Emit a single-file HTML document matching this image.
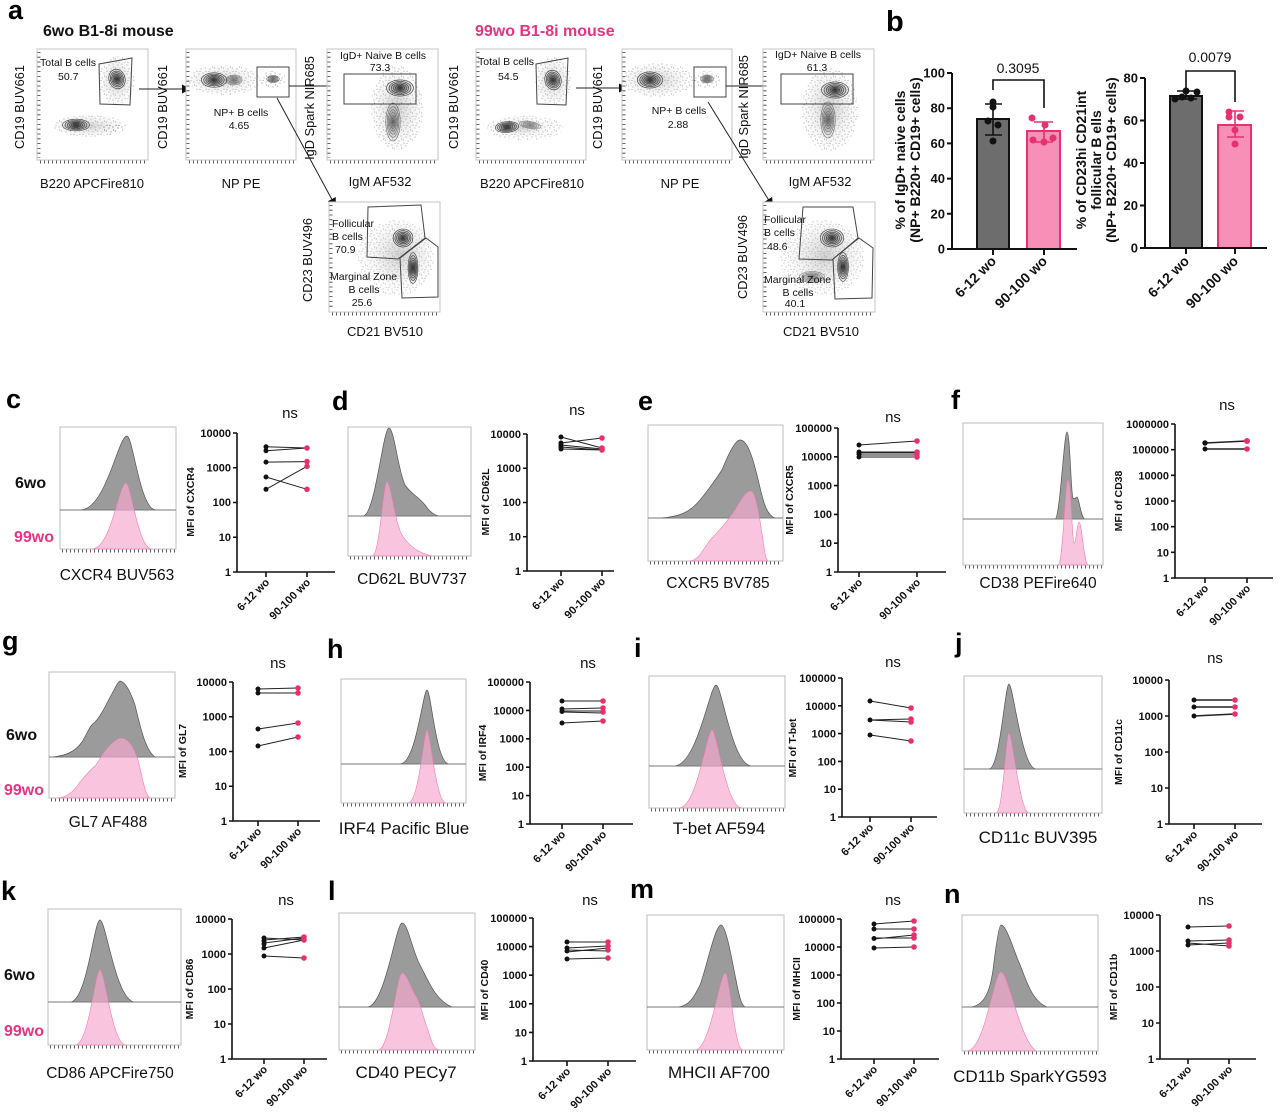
<!DOCTYPE html>
<html><head><meta charset="utf-8"><style>
html,body{margin:0;padding:0;background:#fff;}
svg{display:block;font-family:"Liberation Sans",Arial,sans-serif;}
.pl{font-weight:bold;font-size:27px;fill:#000}
.fb{fill:#fff;stroke:#c4c4c4;stroke-width:1}
.gt{fill:none;stroke:#444;stroke-width:1}
.ct{fill:none;stroke:#3a3a3a;stroke-width:.6;vector-effect:non-scaling-stroke}
.ft{font-size:10.5px;fill:#111}
.fxl{font-size:13px;fill:#111;text-anchor:middle}
.fyl{font-size:12.8px;fill:#111;text-anchor:middle}
.tk{stroke:#333;stroke-width:3;stroke-dasharray:.8 3.2;fill:none}
.tkv{stroke:#333;stroke-width:3;stroke-dasharray:.8 4;fill:none}
.arr{stroke:#222;stroke-width:1;fill:none}
.hb{fill:#fff;stroke:#bdbdbd;stroke-width:1}
.dv{stroke:#777;stroke-width:1}
.hg{fill:#9b9b9b;stroke:#555;stroke-width:.7}
.hp{fill:#f6a9cf;fill-opacity:.68;stroke:#f07ab0;stroke-width:.6}
.hx{font-size:15.5px;fill:#111;text-anchor:middle}
.ax{stroke:#111;stroke-width:1.6;fill:none}
.tl{font-size:11px;font-weight:bold;text-anchor:end;fill:#111}
.yl{font-size:10.5px;font-weight:bold;text-anchor:middle;fill:#111}
.xl{font-size:11px;font-weight:bold;text-anchor:end;fill:#111}
.ns{font-size:15px;text-anchor:middle;fill:#111}
.ln{stroke:#222;stroke-width:1;fill:none}
.bk{fill:#111}
.pk{fill:#e8306e}
.age{font-size:16px;font-weight:bold}
.btl{font-size:13px;font-weight:bold;text-anchor:end;fill:#111}
.byl{font-size:14px;font-weight:bold;text-anchor:middle;fill:#111}
.bxl{font-size:14px;font-weight:bold;text-anchor:end;fill:#111}
.pv{font-size:14px;text-anchor:middle;fill:#111}
</style></head><body>
<svg width="1280" height="1115" viewBox="0 0 1280 1115" xmlns="http://www.w3.org/2000/svg">
<defs>
<radialGradient id="rg"><stop offset="0" stop-color="#1e1e1e" stop-opacity=".95"/><stop offset=".35" stop-color="#555" stop-opacity=".6"/><stop offset=".7" stop-color="#888" stop-opacity=".3"/><stop offset="1" stop-color="#aaa" stop-opacity="0"/></radialGradient>
<radialGradient id="halo"><stop offset="0" stop-color="#777" stop-opacity=".35"/><stop offset="1" stop-color="#aaa" stop-opacity="0"/></radialGradient>
<pattern id="spk" width="9" height="9" patternUnits="userSpaceOnUse">
<circle cx="1" cy="2" r=".5" fill="#555"/><circle cx="5" cy="1" r=".5" fill="#555"/><circle cx="7.3" cy="5" r=".5" fill="#555"/><circle cx="3" cy="6" r=".5" fill="#555"/><circle cx="8" cy="8.2" r=".5" fill="#555"/><circle cx="2" cy="8.5" r=".5" fill="#555"/><circle cx="5.5" cy="4" r=".5" fill="#555"/></pattern>
<g id="blob">
<ellipse rx="10" ry="10" fill="url(#rg)"/>
<ellipse rx="9" ry="9" class="ct"/><ellipse rx="7.3" ry="7.3" class="ct"/><ellipse rx="5.8" ry="5.8" class="ct"/><ellipse rx="4.4" ry="4.4" class="ct"/><ellipse rx="3.1" ry="3.1" class="ct"/><ellipse rx="2" ry="2" class="ct"/><ellipse rx="1" ry="1" class="ct"/>
</g>
<marker id="ah" viewBox="0 0 10 10" refX="10" refY="5" markerWidth="9" markerHeight="9" markerUnits="userSpaceOnUse" orient="auto"><path d="M0,0 L10,5 L0,10 Z" fill="#111"/></marker>
</defs>
<rect width="1280" height="1115" fill="#fff"/>

<!-- ============ PANEL A ============ -->
<text x="8" y="19" class="pl">a</text>
<text x="43" y="36" class="age" fill="#111">6wo B1-8i mouse</text>
<text x="475" y="36" class="age" fill="#e8337f">99wo B1-8i mouse</text>

<!-- 6wo plot1 -->
<rect x="37" y="49" width="111" height="111" class="fb"/>
<path d="M39,52V158" class="tkv"/><path d="M40,162H147" class="tk"/>
<ellipse cx="117" cy="80" rx="18" ry="24" fill="url(#spk)" opacity=".7"/>
<ellipse cx="117" cy="80" rx="18" ry="24" fill="url(#halo)"/>
<use href="#blob" transform="translate(117,79) rotate(-15) scale(.9,1.1)"/>
<ellipse cx="90" cy="126" rx="36" ry="11" fill="url(#spk)" opacity=".7"/>
<ellipse cx="88" cy="126" rx="36" ry="11" fill="url(#halo)"/>
<use href="#blob" transform="translate(76,125) scale(1.5,.65)"/>
<ellipse cx="112" cy="128" rx="10" ry="4" fill="url(#spk)"/>
<polygon points="99,64 132,58 130,105 100,104" class="gt"/>
<text x="40" y="66" class="ft">Total B cells</text>
<text x="58" y="80" class="ft">50.7</text>
<text transform="translate(24,107) rotate(-90)" class="fyl">CD19 BUV661</text>
<text x="92" y="188" class="fxl">B220 APCFire810</text>
<line x1="139" y1="89" x2="191" y2="89" class="arr" marker-end="url(#ah)"/>

<!-- 6wo plot2 -->
<rect x="186" y="49" width="110" height="111" class="fb"/>
<path d="M188,52V158" class="tkv"/><path d="M189,162H294" class="tk"/>
<ellipse cx="224" cy="80" rx="36" ry="15" fill="url(#spk)" opacity=".7"/>
<ellipse cx="222" cy="80" rx="36" ry="15" fill="url(#halo)"/>
<use href="#blob" transform="translate(214,80) scale(1.4,.8)"/>
<use href="#blob" transform="translate(234,80) scale(.9,.55)" opacity=".6"/>
<ellipse cx="273" cy="80" rx="13" ry="9" fill="url(#spk)" opacity=".8"/>
<use href="#blob" transform="translate(273,79) scale(.7,.4)" opacity=".7"/>
<rect x="257" y="67" width="32" height="30" class="gt"/>
<text x="241" y="116" class="ft" text-anchor="middle">NP+ B cells</text>
<text x="239" y="129" class="ft" text-anchor="middle">4.65</text>
<text transform="translate(167,107) rotate(-90)" class="fyl">CD19 BUV661</text>
<text x="241" y="188" class="fxl">NP PE</text>
<line x1="289" y1="86" x2="337" y2="86" class="arr" marker-end="url(#ah)"/>
<line x1="277" y1="98" x2="336" y2="207" class="arr" marker-end="url(#ah)"/>

<!-- 6wo plot3 -->
<rect x="327" y="49" width="111" height="111" class="fb"/>
<path d="M329,52V158" class="tkv"/><path d="M330,162H436" class="tk"/>
<ellipse cx="397" cy="108" rx="26" ry="42" fill="url(#spk)" opacity=".7"/>
<ellipse cx="397" cy="108" rx="26" ry="42" fill="url(#halo)"/>
<use href="#blob" transform="translate(393,122) scale(.8,2.1)" opacity=".7"/>
<use href="#blob" transform="translate(400,88) scale(1.5,.9)"/>
<rect x="344" y="74" width="72" height="30" class="gt"/>
<text x="383" y="59" class="ft" text-anchor="middle">IgD+ Naive B cells</text>
<text x="380" y="71" class="ft" text-anchor="middle">73.3</text>
<text transform="translate(314,108) rotate(-90)" class="fyl">IgD Spark NIR685</text>
<text x="380" y="186" class="fxl">IgM  AF532</text>

<!-- 6wo plot4 -->
<rect x="329" y="202" width="111" height="110" class="fb"/>
<path d="M331,205V310" class="tkv"/><path d="M332,314H438" class="tk"/>
<ellipse cx="396" cy="258" rx="38" ry="38" fill="url(#spk)" opacity=".6"/>
<ellipse cx="400" cy="255" rx="36" ry="36" fill="url(#halo)"/>
<use href="#blob" transform="translate(403,238) scale(1.1,1)"/>
<use href="#blob" transform="translate(413,268) scale(.55,1.7)"/>
<polygon points="368,207 421,205 425,238 398,259 367,257" class="gt"/>
<polygon points="400,258 426,238 438,247 438,297 402,298" class="gt"/>
<text x="332" y="227" class="ft">Follicular</text>
<text x="332" y="240" class="ft">B cells</text>
<text x="335" y="253" class="ft">70.9</text>
<text x="330" y="280" class="ft">Marginal Zone</text>
<text x="364" y="293" class="ft" text-anchor="middle">B cells</text>
<text x="362" y="306" class="ft" text-anchor="middle">25.6</text>
<text transform="translate(312,260) rotate(-90)" class="fyl">CD23 BUV496</text>
<text x="385" y="336" class="fxl">CD21 BV510</text>

<!-- 99wo plot1 -->
<rect x="476" y="49" width="110" height="111" class="fb"/>
<path d="M478,52V158" class="tkv"/><path d="M479,162H584" class="tk"/>
<ellipse cx="553" cy="81" rx="18" ry="24" fill="url(#spk)" opacity=".7"/>
<ellipse cx="553" cy="81" rx="18" ry="24" fill="url(#halo)"/>
<use href="#blob" transform="translate(553,80) rotate(-15) scale(.9,1.1)"/>
<ellipse cx="525" cy="128" rx="38" ry="12" fill="url(#spk)" opacity=".7"/>
<ellipse cx="520" cy="127" rx="34" ry="11" fill="url(#halo)"/>
<use href="#blob" transform="translate(507,127) rotate(-5) scale(1.3,.6)"/>
<use href="#blob" transform="translate(530,125) rotate(10) scale(1.2,.4)" opacity=".5"/>
<polygon points="536,64 568,58 566,105 537,104" class="gt"/>
<text x="478" y="65" class="ft">Total B cells</text>
<text x="498" y="80" class="ft">54.5</text>
<text transform="translate(458,107) rotate(-90)" class="fyl">CD19 BUV661</text>
<text x="532" y="188" class="fxl">B220 APCFire810</text>
<line x1="576" y1="88" x2="628" y2="88" class="arr" marker-end="url(#ah)"/>

<!-- 99wo plot2 -->
<rect x="622" y="49" width="110" height="111" class="fb"/>
<path d="M624,52V158" class="tkv"/><path d="M625,162H730" class="tk"/>
<ellipse cx="658" cy="80" rx="36" ry="17" fill="url(#spk)" opacity=".7"/>
<ellipse cx="655" cy="80" rx="34" ry="17" fill="url(#halo)"/>
<use href="#blob" transform="translate(650,80) scale(1.4,.9)"/>
<ellipse cx="707" cy="80" rx="13" ry="9" fill="url(#spk)" opacity=".8"/>
<use href="#blob" transform="translate(707,79) scale(.7,.45)" opacity=".7"/>
<rect x="694" y="67" width="32" height="30" class="gt"/>
<text x="679" y="114" class="ft" text-anchor="middle">NP+ B cells</text>
<text x="678" y="128" class="ft" text-anchor="middle">2.88</text>
<text transform="translate(602,107) rotate(-90)" class="fyl">CD19 BUV661</text>
<text x="680" y="188" class="fxl">NP PE</text>
<line x1="726" y1="86" x2="774" y2="86" class="arr" marker-end="url(#ah)"/>
<line x1="708" y1="102" x2="773" y2="207" class="arr" marker-end="url(#ah)"/>

<!-- 99wo plot3 -->
<rect x="763" y="49" width="111" height="111" class="fb"/>
<path d="M765,52V158" class="tkv"/><path d="M766,162H872" class="tk"/>
<ellipse cx="830" cy="110" rx="28" ry="42" fill="url(#spk)" opacity=".7"/>
<ellipse cx="830" cy="108" rx="28" ry="42" fill="url(#halo)"/>
<use href="#blob" transform="translate(828,120) scale(.8,2)" opacity=".7"/>
<use href="#blob" transform="translate(835,90) scale(1.5,.9)"/>
<rect x="781" y="74" width="72" height="30" class="gt"/>
<text x="818" y="58" class="ft" text-anchor="middle">IgD+ Naive B cells</text>
<text x="817" y="71" class="ft" text-anchor="middle">61.3</text>
<text transform="translate(748,107) rotate(-90)" class="fyl">IgD Spark NIR685</text>
<text x="820" y="186" class="fxl">IgM  AF532</text>

<!-- 99wo plot4 -->
<rect x="763" y="202" width="112" height="110" class="fb"/>
<path d="M765,205V310" class="tkv"/><path d="M766,314H873" class="tk"/>
<ellipse cx="822" cy="258" rx="42" ry="38" fill="url(#spk)" opacity=".6"/>
<ellipse cx="825" cy="256" rx="40" ry="36" fill="url(#halo)"/>
<use href="#blob" transform="translate(812,277) scale(1.4,.6)" opacity=".6"/>
<use href="#blob" transform="translate(832,238) scale(1.3,1)"/>
<use href="#blob" transform="translate(843,267) scale(.6,1.6)"/>
<polygon points="803,207 853,207 858,238 832,260 799,259" class="gt"/>
<polygon points="833,259 859,238 873,248 872,298 835,299" class="gt"/>
<text x="764" y="223" class="ft">Follicular</text>
<text x="764" y="236" class="ft">B cells</text>
<text x="767" y="250" class="ft">48.6</text>
<text x="764" y="283" class="ft">Marginal Zone</text>
<text x="798" y="296" class="ft" text-anchor="middle">B cells</text>
<text x="795" y="307" class="ft" text-anchor="middle">40.1</text>
<text transform="translate(747,257) rotate(-90)" class="fyl">CD23 BUV496</text>
<text x="821" y="336" class="fxl">CD21 BV510</text>

<!-- ============ PANEL B ============ -->
<text x="886" y="31" class="pl" style="font-size:29px">b</text>
<!-- chart 1 -->
<rect x="977" y="119" width="32" height="130" fill="#6d6d6d" stroke="#111" stroke-width="2"/>
<rect x="1027" y="131" width="33" height="118" fill="#f78fb6" stroke="#e8306e" stroke-width="2"/>
<path d="M952,73V249H1077" stroke="#111" stroke-width="2" fill="none"/>
<path d="M947,249H952M947,213.8H952M947,178.6H952M947,143.4H952M947,108.2H952M947,73H952M993,249V255M1044,249V255" stroke="#111" stroke-width="2"/>
<text x="945" y="253.5" class="btl">0</text>
<text x="945" y="218.3" class="btl">20</text>
<text x="945" y="183.1" class="btl">40</text>
<text x="945" y="147.9" class="btl">60</text>
<text x="945" y="112.7" class="btl">80</text>
<text x="945" y="77.5" class="btl">100</text>
<path d="M993,104V135M985,104H1002M985,135H1002" stroke="#111" stroke-width="1.6"/>
<path d="M1044,122V142M1034,122H1053M1034,142H1053" stroke="#e8306e" stroke-width="1.6"/>
<circle cx="993" cy="102" r="3.5" class="bk"/><circle cx="993" cy="107" r="3.5" class="bk"/><circle cx="988" cy="121" r="3.5" class="bk"/><circle cx="998" cy="125" r="3.5" class="bk"/><circle cx="993" cy="141" r="3.5" class="bk"/>
<circle cx="1032" cy="118" r="3.5" class="pk"/><circle cx="1045" cy="125" r="3.5" class="pk"/><circle cx="1033" cy="140" r="3.5" class="pk"/><circle cx="1053" cy="138" r="3.5" class="pk"/><circle cx="1044" cy="142" r="3.5" class="pk"/>
<path d="M993,90V80H1044V108" stroke="#111" stroke-width="1.6" fill="none"/>
<text x="1018" y="73" class="pv">0.3095</text>
<text transform="translate(905,160) rotate(-90)" class="byl">% of IgD+ naive cells</text>
<text transform="translate(920,160) rotate(-90)" class="byl">(NP+ B220+ CD19+ cells)</text>
<text transform="translate(997,262) rotate(-45)" class="bxl">6-12 wo</text>
<text transform="translate(1048,262) rotate(-45)" class="bxl">90-100 wo</text>
<!-- chart 2 -->
<rect x="1170" y="96" width="32" height="152" fill="#6d6d6d" stroke="#111" stroke-width="2"/>
<rect x="1218" y="125" width="33" height="123" fill="#f78fb6" stroke="#e8306e" stroke-width="2"/>
<path d="M1145,78V248H1267" stroke="#111" stroke-width="2" fill="none"/>
<path d="M1140,248H1145M1140,205.5H1145M1140,163H1145M1140,120.5H1145M1140,78H1145M1186,248V254M1235,248V254" stroke="#111" stroke-width="2"/>
<text x="1138" y="252.5" class="btl">0</text>
<text x="1138" y="210" class="btl">20</text>
<text x="1138" y="167.5" class="btl">40</text>
<text x="1138" y="125" class="btl">60</text>
<text x="1138" y="82.5" class="btl">80</text>
<path d="M1186,91V99M1177,91H1197M1177,99H1197" stroke="#111" stroke-width="1.6"/>
<path d="M1235,111V137M1227,111H1244M1227,137H1244" stroke="#e8306e" stroke-width="1.6"/>
<circle cx="1175" cy="99" r="3.5" class="bk"/><circle cx="1186" cy="91" r="3.5" class="bk"/><circle cx="1197" cy="92" r="3.5" class="bk"/><circle cx="1191" cy="98" r="3.5" class="bk"/><circle cx="1182" cy="97" r="3.5" class="bk"/>
<circle cx="1229" cy="112" r="3.5" class="pk"/><circle cx="1229" cy="117" r="3.5" class="pk"/><circle cx="1240" cy="117" r="3.5" class="pk"/><circle cx="1235" cy="130" r="3.5" class="pk"/><circle cx="1235" cy="144" r="3.5" class="pk"/>
<path d="M1186,89V71H1235V102" stroke="#111" stroke-width="1.6" fill="none"/>
<text x="1210" y="62" class="pv">0.0079</text>
<text transform="translate(1086,160) rotate(-90)" class="byl">% of CD23hi CD21int</text>
<text transform="translate(1101,160) rotate(-90)" class="byl">follicular B ells</text>
<text transform="translate(1116,160) rotate(-90)" class="byl">(NP+ B220+ CD19+ cells)</text>
<text transform="translate(1190,262) rotate(-45)" class="bxl">6-12 wo</text>
<text transform="translate(1239,262) rotate(-45)" class="bxl">90-100 wo</text>

<!-- ============ ROW 1 ============ -->
<text x="6" y="408" class="pl">c</text>
<text x="332" y="410" class="pl">d</text>
<text x="638" y="410" class="pl">e</text>
<text x="951" y="409" class="pl">f</text>

<!-- c hist -->
<rect x="60" y="427" width="116" height="122" class="hb"/>
<path d="M80,510 C106,510 118,436 127,436 C133,436 140,510 156,510 Z" class="hg"/>
<line x1="60" y1="510" x2="176" y2="510" class="dv"/>
<path d="M92,549 C111,549 119,483 126,483 C131,483 138,549 152,549 Z" class="hp"/>
<path d="M62,551H175" class="tk"/>
<text x="15" y="488" class="age" fill="#111">6wo</text>
<text x="14" y="542" class="age" fill="#e8337f">99wo</text>
<text x="117" y="580" class="hx">CXCR4 BUV563</text>
<!-- c dot -->
<path d="M237,433V572H335" class="ax"/>
<path d="M233,572H237M233,537.25H237M233,502.5H237M233,467.75H237M233,433H237M266,572V577M307,572V577" class="ax"/>
<text x="231" y="576" class="tl">1</text><text x="231" y="541" class="tl">10</text><text x="231" y="506" class="tl">100</text><text x="231" y="471.5" class="tl">1000</text><text x="231" y="437" class="tl">10000</text>
<text transform="translate(194,502) rotate(-90)" class="yl">MFI of CXCR4</text>
<text x="290" y="418" class="ns">ns</text>
<text transform="translate(270,583) rotate(-45)" class="xl">6-12 wo</text>
<text transform="translate(311,583) rotate(-45)" class="xl">90-100 wo</text>
<path d="M266,446.8L307,448M266,450.7L307,448M266,462.1L307,461.6M266,477L307,489.3M266,489.3L307,466.3" class="ln"/>
<g class="bk"><circle cx="266" cy="446.8" r="2.5"/><circle cx="266" cy="450.7" r="2.5"/><circle cx="266" cy="462.1" r="2.5"/><circle cx="266" cy="477" r="2.5"/><circle cx="266" cy="489.3" r="2.5"/></g>
<g class="pk"><circle cx="307" cy="448" r="2.8"/><circle cx="307" cy="461.6" r="2.8"/><circle cx="307" cy="466.3" r="2.8"/><circle cx="307" cy="489.3" r="2.8"/></g>

<!-- d hist -->
<rect x="348" y="427" width="123" height="129" class="hb"/>
<path d="M363,516 C375,516 383,428 389,428 C394,428 398,470 405,485 C412,495 418,496 425,505 C430,512 435,516 440,516 Z" class="hg"/>
<line x1="348" y1="516" x2="471" y2="516" class="dv"/>
<path d="M372,556 C380,556 383,482 387,482 C391,482 394,520 402,535 C410,548 420,553 432,556 Z" class="hp"/>
<path d="M350,558H470" class="tk"/>
<text x="412" y="584" class="hx">CD62L BUV737</text>
<!-- d dot -->
<path d="M527,434V571H614" class="ax"/>
<path d="M523,571H527M523,536.75H527M523,502.5H527M523,468.25H527M523,434H527M561,571V576M602,571V576" class="ax"/>
<text x="521" y="575" class="tl">1</text><text x="521" y="540.5" class="tl">10</text><text x="521" y="506" class="tl">100</text><text x="521" y="472" class="tl">1000</text><text x="521" y="438" class="tl">10000</text>
<text transform="translate(489,502) rotate(-90)" class="yl">MFI of CD62L</text>
<text x="577" y="415" class="ns">ns</text>
<text transform="translate(565,582) rotate(-45)" class="xl">6-12 wo</text>
<text transform="translate(606,582) rotate(-45)" class="xl">90-100 wo</text>
<path d="M561,437L602,448M561,443L602,438M561,445L602,449M561,447L602,450M561,449L602,450" class="ln"/>
<g class="bk"><circle cx="561" cy="437" r="2.5"/><circle cx="561" cy="443" r="2.5"/><circle cx="561" cy="445" r="2.5"/><circle cx="561" cy="447" r="2.5"/><circle cx="561" cy="449" r="2.5"/></g>
<g class="pk"><circle cx="602" cy="438" r="2.8"/><circle cx="602" cy="448" r="2.8"/><circle cx="602" cy="450" r="2.8"/></g>

<!-- e hist -->
<rect x="648" y="425" width="135" height="136" class="hb"/>
<path d="M660,518 C680,517 690,512 700,500 C710,488 715,480 722,470 C728,455 735,440 740,440 C747,440 752,455 757,475 C762,495 765,515 775,518 Z" class="hg"/>
<line x1="648" y1="518" x2="783" y2="518" class="dv"/>
<path d="M690,561 C700,560 705,545 712,538 C720,530 728,520 735,510 C742,498 746,491 751,491 C756,492 760,520 763,540 C765,555 766,560 768,561 Z" class="hp"/>
<path d="M650,563H782" class="tk"/>
<text x="718" y="588" class="hx">CXCR5 BV785</text>
<!-- e dot -->
<path d="M838,428V572H946" class="ax"/>
<path d="M834,572H838M834,543.2H838M834,514.4H838M834,485.6H838M834,456.8H838M834,428H838M859,572V577M917,572V577" class="ax"/>
<text x="832" y="576" class="tl">1</text><text x="832" y="547" class="tl">10</text><text x="832" y="518" class="tl">100</text><text x="832" y="489.5" class="tl">1000</text><text x="832" y="460.5" class="tl">10000</text><text x="832" y="432" class="tl">100000</text>
<text transform="translate(793,500) rotate(-90)" class="yl">MFI of CXCR5</text>
<text x="893" y="422" class="ns">ns</text>
<text transform="translate(863,583) rotate(-45)" class="xl">6-12 wo</text>
<text transform="translate(921,583) rotate(-45)" class="xl">90-100 wo</text>
<path d="M859,445L917,441M859,452L917,452M859,453L917,453M859,455L917,455M859,457L917,457" class="ln"/>
<g class="bk"><circle cx="859" cy="445" r="2.5"/><circle cx="859" cy="452" r="2.5"/><circle cx="859" cy="454" r="2.5"/><circle cx="859" cy="457" r="2.5"/></g>
<g class="pk"><circle cx="917" cy="441" r="2.8"/><circle cx="917" cy="452" r="2.8"/><circle cx="917" cy="454" r="2.8"/><circle cx="917" cy="457" r="2.8"/></g>

<!-- f hist -->
<rect x="963" y="423" width="140" height="142" class="hb"/>
<path d="M1055,519 C1060,519 1064,432 1067,432 C1070,432 1071,495 1073,498 C1075,500 1076,497 1077,497 C1079,497 1081,519 1085,519 Z" class="hg"/>
<line x1="963" y1="519" x2="1103" y2="519" class="dv"/>
<path d="M1058,565 C1063,565 1065,480 1068,480 C1071,480 1072,540 1074,543 C1076,545 1077,522 1079,522 C1082,522 1084,565 1088,565 Z" class="hp"/>
<path d="M965,567H1102" class="tk"/>
<text x="1038" y="588" class="hx">CD38 PEFire640</text>
<!-- f dot -->
<path d="M1175,424V578H1273" class="ax"/>
<path d="M1171,578H1175M1171,552.3H1175M1171,526.7H1175M1171,501H1175M1171,475.3H1175M1171,449.7H1175M1171,424H1175M1205,578V583M1247,578V583" class="ax"/>
<text x="1169" y="582" class="tl">1</text><text x="1169" y="556.3" class="tl">10</text><text x="1169" y="530.7" class="tl">100</text><text x="1169" y="505" class="tl">1000</text><text x="1169" y="479.3" class="tl">10000</text><text x="1169" y="453.7" class="tl">100000</text><text x="1169" y="428" class="tl">1000000</text>
<text transform="translate(1122,501) rotate(-90)" class="yl">MFI of CD38</text>
<text x="1227" y="410" class="ns">ns</text>
<text transform="translate(1209,589) rotate(-45)" class="xl">6-12 wo</text>
<text transform="translate(1251,589) rotate(-45)" class="xl">90-100 wo</text>
<path d="M1205,443L1247,441M1205,449L1247,449" class="ln" style="stroke-width:1.6"/>
<g class="bk"><circle cx="1205" cy="443" r="2.7"/><circle cx="1205" cy="449" r="2.5"/></g>
<g class="pk"><circle cx="1247" cy="441" r="3"/><circle cx="1247" cy="449" r="2.8"/></g>

<!-- ============ ROW 2 ============ -->
<text x="2" y="650" class="pl">g</text>
<text x="327" y="658" class="pl">h</text>
<text x="634" y="657" class="pl">i</text>
<text x="955" y="652" class="pl">j</text>

<!-- g hist -->
<rect x="49" y="672" width="126" height="126" class="hb"/>
<path d="M52,757 C65,756 75,752 82,742 C88,732 90,725 95,722 C102,715 108,700 114,690 C117,684 119,681 120,681 C125,682 130,690 135,705 C140,725 145,750 155,757 Z" class="hg"/>
<line x1="49" y1="757" x2="175" y2="757" class="dv"/>
<path d="M58,798 C68,797 75,790 80,782 C86,775 90,770 96,765 C102,755 110,742 120,738 C126,738 132,742 138,760 C143,780 145,795 150,798 Z" class="hp"/>
<path d="M51,800H174" class="tk"/>
<text x="6" y="740" class="age" fill="#111">6wo</text>
<text x="4" y="795" class="age" fill="#e8337f">99wo</text>
<text x="108" y="827" class="hx">GL7 AF488</text>
<!-- g dot -->
<path d="M233,682V821H320" class="ax"/>
<path d="M229,821H233M229,786.25H233M229,751.5H233M229,716.75H233M229,682H233M258,821V826M298,821V826" class="ax"/>
<text x="227" y="825" class="tl">1</text><text x="227" y="790" class="tl">10</text><text x="227" y="755.5" class="tl">100</text><text x="227" y="720.5" class="tl">1000</text><text x="227" y="686" class="tl">10000</text>
<text transform="translate(186,751) rotate(-90)" class="yl">MFI of GL7</text>
<text x="278" y="668" class="ns">ns</text>
<text transform="translate(262,832) rotate(-45)" class="xl">6-12 wo</text>
<text transform="translate(302,832) rotate(-45)" class="xl">90-100 wo</text>
<path d="M258,689L298,688M258,693L298,693M258,729L298,723M258,746L298,737" class="ln"/>
<g class="bk"><circle cx="258" cy="689" r="2.5"/><circle cx="258" cy="693" r="2.5"/><circle cx="258" cy="729" r="2.5"/><circle cx="258" cy="746" r="2.5"/></g>
<g class="pk"><circle cx="298" cy="688" r="2.8"/><circle cx="298" cy="693" r="2.8"/><circle cx="298" cy="723" r="2.8"/><circle cx="298" cy="737" r="2.8"/></g>

<!-- h hist -->
<rect x="341" y="679" width="125" height="124" class="hb"/>
<path d="M400,764 C416,764 423,690 427,690 C431,690 436,764 449,764 Z" class="hg"/>
<line x1="341" y1="764" x2="466" y2="764" class="dv"/>
<path d="M408,803 C419,803 424,730 427,730 C430,730 436,803 446,803 Z" class="hp"/>
<path d="M343,805H465" class="tk"/>
<text x="404" y="834" class="hx" style="font-size:17px">IRF4 Pacific Blue</text>
<!-- h dot -->
<path d="M530,682V824H633" class="ax"/>
<path d="M526,824H530M526,795.6H530M526,767.2H530M526,738.8H530M526,710.4H530M526,682H530M562,824V829M603,824V829" class="ax"/>
<text x="524" y="828" class="tl">1</text><text x="524" y="799.5" class="tl">10</text><text x="524" y="771" class="tl">100</text><text x="524" y="742.5" class="tl">1000</text><text x="524" y="714.5" class="tl">10000</text><text x="524" y="686" class="tl">100000</text>
<text transform="translate(486,753) rotate(-90)" class="yl">MFI of IRF4</text>
<text x="588" y="668" class="ns">ns</text>
<text transform="translate(566,835) rotate(-45)" class="xl">6-12 wo</text>
<text transform="translate(607,835) rotate(-45)" class="xl">90-100 wo</text>
<path d="M562,701L603,701M562,709L603,708M562,711L603,711M562,712L603,713M562,723L603,721" class="ln"/>
<g class="bk"><circle cx="562" cy="701" r="2.5"/><circle cx="562" cy="709" r="2.5"/><circle cx="562" cy="711.5" r="2.5"/><circle cx="562" cy="723" r="2.5"/></g>
<g class="pk"><circle cx="603" cy="701" r="2.8"/><circle cx="603" cy="708" r="2.8"/><circle cx="603" cy="712" r="2.8"/><circle cx="603" cy="721" r="2.8"/></g>

<!-- i hist -->
<rect x="649" y="676" width="136" height="132" class="hb"/>
<path d="M674,766 C697,766 710,685 716,685 C722,685 732,766 752,766 Z" class="hg"/>
<line x1="649" y1="766" x2="785" y2="766" class="dv"/>
<path d="M679,808 C697,808 707,730 712,730 C717,730 726,808 742,808 Z" class="hp"/>
<path d="M651,810H784" class="tk"/>
<text x="719" y="834" class="hx" style="font-size:17px">T-bet AF594</text>
<!-- i dot -->
<path d="M842,678V817H937" class="ax"/>
<path d="M838,817H842M838,789.2H842M838,761.4H842M838,733.6H842M838,705.8H842M838,678H842M870,817V822M911,817V822" class="ax"/>
<text x="836" y="821" class="tl">1</text><text x="836" y="793" class="tl">10</text><text x="836" y="765.5" class="tl">100</text><text x="836" y="737.5" class="tl">1000</text><text x="836" y="710" class="tl">10000</text><text x="836" y="682" class="tl">100000</text>
<text transform="translate(796,748) rotate(-90)" class="yl">MFI of T-bet</text>
<text x="893" y="667" class="ns">ns</text>
<text transform="translate(874,828) rotate(-45)" class="xl">6-12 wo</text>
<text transform="translate(915,828) rotate(-45)" class="xl">90-100 wo</text>
<path d="M870,701L911,708M870,720L911,719M870,720L911,722M870,735L911,741" class="ln"/>
<g class="bk"><circle cx="870" cy="701" r="2.5"/><circle cx="870" cy="720" r="2.5"/><circle cx="870" cy="735" r="2.5"/></g>
<g class="pk"><circle cx="911" cy="708" r="2.8"/><circle cx="911" cy="719" r="2.8"/><circle cx="911" cy="722" r="2.8"/><circle cx="911" cy="741" r="2.8"/></g>

<!-- j hist -->
<rect x="964" y="676" width="138" height="137" class="hb"/>
<path d="M989,769 C1000,769 1005,684 1009,684 C1013,684 1022,769 1036,769 Z" class="hg"/>
<line x1="964" y1="769" x2="1102" y2="769" class="dv"/>
<path d="M996,813 C1003,813 1006,733 1009,733 C1012,733 1020,813 1029,813 Z" class="hp"/>
<path d="M966,815H1101" class="tk"/>
<text x="1038" y="843" class="hx" style="font-size:17px">CD11c BUV395</text>
<!-- j dot -->
<path d="M1169,680V824H1262" class="ax"/>
<path d="M1165,824H1169M1165,788H1169M1165,752H1169M1165,716H1169M1165,680H1169M1194,824V829M1235,824V829" class="ax"/>
<text x="1163" y="828" class="tl">1</text><text x="1163" y="792" class="tl">10</text><text x="1163" y="756" class="tl">100</text><text x="1163" y="720" class="tl">1000</text><text x="1163" y="684" class="tl">10000</text>
<text transform="translate(1122,752) rotate(-90)" class="yl">MFI of CD11c</text>
<text x="1215" y="663" class="ns">ns</text>
<text transform="translate(1198,835) rotate(-45)" class="xl">6-12 wo</text>
<text transform="translate(1239,835) rotate(-45)" class="xl">90-100 wo</text>
<path d="M1194,700L1235,700M1194,707L1235,707M1194,716L1235,714" class="ln" style="stroke-width:1.4"/>
<g class="bk"><circle cx="1194" cy="700" r="2.5"/><circle cx="1194" cy="707" r="2.5"/><circle cx="1194" cy="716" r="2.5"/></g>
<g class="pk"><circle cx="1235" cy="700" r="2.8"/><circle cx="1235" cy="707" r="2.8"/><circle cx="1235" cy="714" r="2.8"/></g>

<!-- ============ ROW 3 ============ -->
<text x="1" y="900" class="pl">k</text>
<text x="328" y="900" class="pl">l</text>
<text x="630" y="898" class="pl">m</text>
<text x="944" y="903" class="pl">n</text>

<!-- k hist -->
<rect x="48" y="909" width="133" height="136" class="hb"/>
<path d="M70,1002 C87,1002 94,920 100,920 C106,920 116,1002 135,1002 Z" class="hg"/>
<line x1="48" y1="1002" x2="181" y2="1002" class="dv"/>
<path d="M75,1045 C89,1045 95,970 100,970 C105,970 112,1045 126,1045 Z" class="hp"/>
<path d="M50,1047H180" class="tk"/>
<text x="4" y="980" class="age" fill="#111">6wo</text>
<text x="4" y="1036" class="age" fill="#e8337f">99wo</text>
<text x="110" y="1078" class="hx">CD86 APCFire750</text>
<!-- k dot -->
<path d="M232,919V1059H327" class="ax"/>
<path d="M228,1059H232M228,1024H232M228,989H232M228,954H232M228,919H232M264,1059V1064M304,1059V1064" class="ax"/>
<text x="226" y="1063" class="tl">1</text><text x="226" y="1028" class="tl">10</text><text x="226" y="993" class="tl">100</text><text x="226" y="958" class="tl">1000</text><text x="226" y="923" class="tl">10000</text>
<text transform="translate(193,989) rotate(-90)" class="yl">MFI of CD86</text>
<text x="286" y="905" class="ns">ns</text>
<text transform="translate(268,1070) rotate(-45)" class="xl">6-12 wo</text>
<text transform="translate(308,1070) rotate(-45)" class="xl">90-100 wo</text>
<path d="M264,938L304,940M264,940L304,937M264,943L304,938M264,948L304,940M264,956L304,958" class="ln"/>
<g class="bk"><circle cx="264" cy="938" r="2.5"/><circle cx="264" cy="941" r="2.5"/><circle cx="264" cy="944" r="2.5"/><circle cx="264" cy="948" r="2.5"/><circle cx="264" cy="956" r="2.5"/></g>
<g class="pk"><circle cx="304" cy="937" r="2.8"/><circle cx="304" cy="940" r="2.8"/><circle cx="304" cy="958" r="2.8"/></g>

<!-- l hist -->
<rect x="339" y="913" width="136" height="137" class="hb"/>
<path d="M367,1007 C385,1007 396,923 402,923 C408,923 412,950 420,965 C428,980 435,1000 452,1007 Z" class="hg"/>
<line x1="339" y1="1007" x2="475" y2="1007" class="dv"/>
<path d="M378,1050 C390,1050 397,973 402,973 C406,973 410,985 415,995 C420,1000 422,1015 428,1030 C432,1045 435,1050 440,1050 Z" class="hp"/>
<path d="M341,1052H474" class="tk"/>
<text x="406" y="1078" class="hx" style="font-size:17px">CD40 PECy7</text>
<!-- l dot -->
<path d="M533,918V1061H636" class="ax"/>
<path d="M529,1061H533M529,1032.4H533M529,1003.8H533M529,975.2H533M529,946.6H533M529,918H533M567,1061V1066M608,1061V1066" class="ax"/>
<text x="527" y="1065" class="tl">1</text><text x="527" y="1036.5" class="tl">10</text><text x="527" y="1008" class="tl">100</text><text x="527" y="979" class="tl">1000</text><text x="527" y="950.5" class="tl">10000</text><text x="527" y="922" class="tl">100000</text>
<text transform="translate(488,990) rotate(-90)" class="yl">MFI of CD40</text>
<text x="590" y="905" class="ns">ns</text>
<text transform="translate(571,1072) rotate(-45)" class="xl">6-12 wo</text>
<text transform="translate(612,1072) rotate(-45)" class="xl">90-100 wo</text>
<path d="M567,942L608,942M567,948L608,946M567,950L608,951M567,952L608,948M567,959L608,958" class="ln"/>
<g class="bk"><circle cx="567" cy="942" r="2.5"/><circle cx="567" cy="948" r="2.5"/><circle cx="567" cy="951" r="2.5"/><circle cx="567" cy="959" r="2.5"/></g>
<g class="pk"><circle cx="608" cy="942" r="2.8"/><circle cx="608" cy="946" r="2.8"/><circle cx="608" cy="950" r="2.8"/><circle cx="608" cy="958" r="2.8"/></g>

<!-- m hist -->
<rect x="647" y="915" width="137" height="135" class="hb"/>
<path d="M678,1007 C690,1006 695,995 700,985 C706,970 715,925 721,925 C726,925 732,960 736,980 C740,1000 742,1007 746,1007 Z" class="hg"/>
<line x1="647" y1="1007" x2="784" y2="1007" class="dv"/>
<path d="M695,1050 C710,1050 720,973 725,973 C730,973 734,1050 743,1050 Z" class="hp"/>
<path d="M649,1052H783" class="tk"/>
<text x="719" y="1078" class="hx" style="font-size:17px">MHCII AF700</text>
<!-- m dot -->
<path d="M841,919V1059H939" class="ax"/>
<path d="M837,1059H841M837,1031H841M837,1003H841M837,975H841M837,947H841M837,919H841M874,1059V1064M914,1059V1064" class="ax"/>
<text x="835" y="1063" class="tl">1</text><text x="835" y="1035" class="tl">10</text><text x="835" y="1007" class="tl">100</text><text x="835" y="979" class="tl">1000</text><text x="835" y="951" class="tl">10000</text><text x="835" y="923" class="tl">100000</text>
<text transform="translate(800,989) rotate(-90)" class="yl">MFI of MHCII</text>
<text x="893" y="905" class="ns">ns</text>
<text transform="translate(878,1070) rotate(-45)" class="xl">6-12 wo</text>
<text transform="translate(918,1070) rotate(-45)" class="xl">90-100 wo</text>
<path d="M874,924L914,921M874,929L914,929M874,938L914,938M874,939L914,935M874,948L914,947" class="ln"/>
<g class="bk"><circle cx="874" cy="924" r="2.5"/><circle cx="874" cy="929" r="2.5"/><circle cx="874" cy="938.5" r="2.5"/><circle cx="874" cy="948" r="2.5"/></g>
<g class="pk"><circle cx="914" cy="921" r="2.8"/><circle cx="914" cy="929" r="2.8"/><circle cx="914" cy="935" r="2.8"/><circle cx="914" cy="938" r="2.8"/><circle cx="914" cy="947" r="2.8"/></g>

<!-- n hist -->
<rect x="962" y="915" width="136" height="136" class="hb"/>
<path d="M970,1007 C985,1006 990,990 993,970 C996,945 999,925 1001,925 C1006,925 1012,945 1018,960 C1025,975 1030,1000 1047,1007 Z" class="hg"/>
<line x1="962" y1="1007" x2="1098" y2="1007" class="dv"/>
<path d="M967,1051 C985,1050 994,972 1001,972 C1008,972 1020,1040 1036,1051 Z" class="hp"/>
<path d="M964,1053H1097" class="tk"/>
<text x="1030" y="1082" class="hx" style="font-size:17px">CD11b SparkYG593</text>
<!-- n dot -->
<path d="M1160,915V1059H1256" class="ax"/>
<path d="M1156,1059H1160M1156,1023H1160M1156,987H1160M1156,951H1160M1156,915H1160M1188,1059V1064M1229,1059V1064" class="ax"/>
<text x="1154" y="1063" class="tl">1</text><text x="1154" y="1027" class="tl">10</text><text x="1154" y="991" class="tl">100</text><text x="1154" y="955" class="tl">1000</text><text x="1154" y="919" class="tl">10000</text>
<text transform="translate(1117,987) rotate(-90)" class="yl">MFI of CD11b</text>
<text x="1206" y="905" class="ns">ns</text>
<text transform="translate(1192,1070) rotate(-45)" class="xl">6-12 wo</text>
<text transform="translate(1233,1070) rotate(-45)" class="xl">90-100 wo</text>
<path d="M1188,927L1229,926M1188,941L1229,940M1188,943L1229,946M1188,945L1229,943" class="ln"/>
<g class="bk"><circle cx="1188" cy="927" r="2.5"/><circle cx="1188" cy="941" r="2.5"/><circle cx="1188" cy="945" r="2.5"/></g>
<g class="pk"><circle cx="1229" cy="926" r="2.8"/><circle cx="1229" cy="940" r="2.8"/><circle cx="1229" cy="943" r="2.8"/><circle cx="1229" cy="946" r="2.8"/></g>
</svg>
</body></html>
